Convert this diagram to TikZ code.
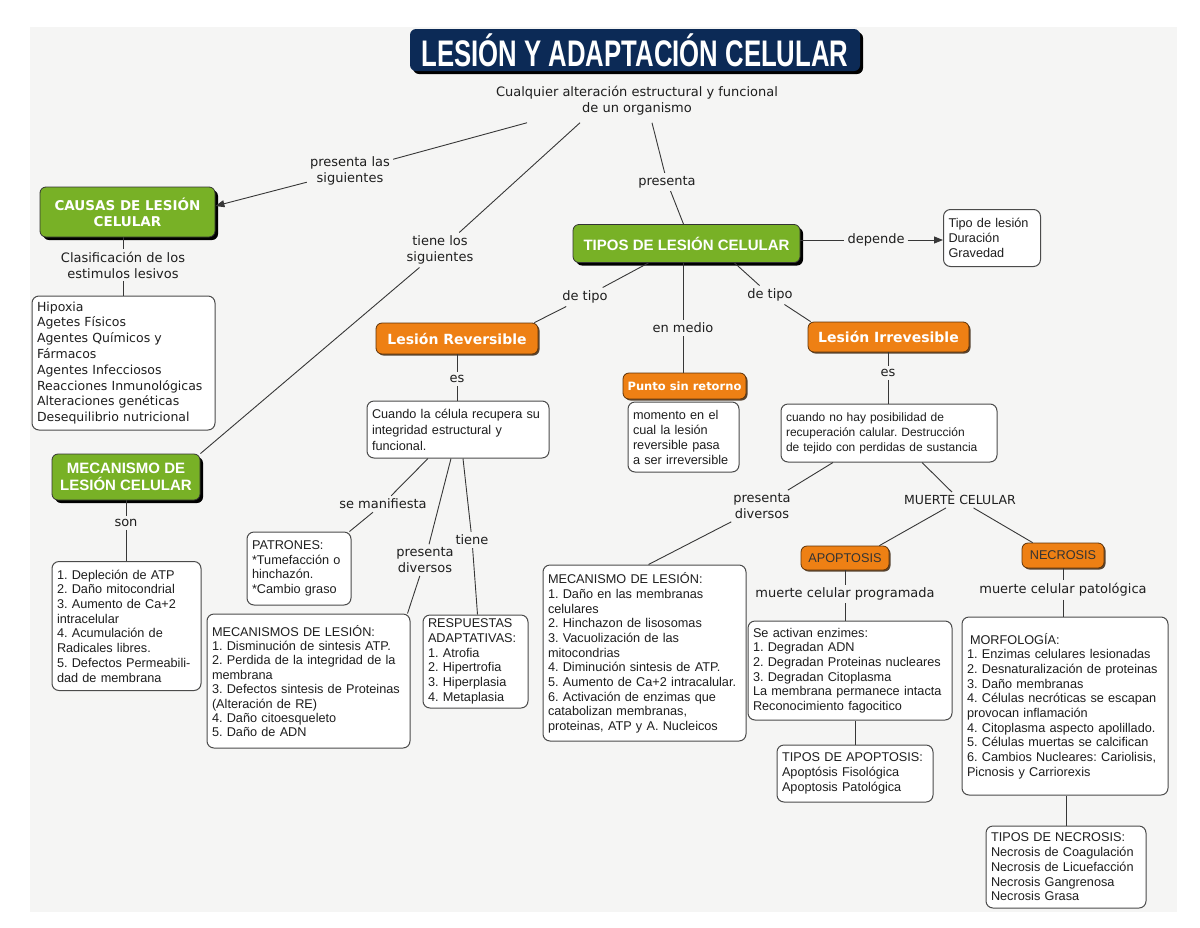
\documentclass[tikz,border=0pt]{standalone}
\usepackage{graphicx}
\usepackage{fontspec}
\setmainfont{Liberation Sans}
\newfontfamily\verd{DejaVu Sans}
\usetikzlibrary{arrows.meta,shadows}
\frenchspacing
\definecolor{fondo}{RGB}{245,245,244}
\definecolor{azul}{RGB}{12,42,86}
\definecolor{verde}{RGB}{120,177,38}
\definecolor{naranja}{RGB}{238,128,20}
\definecolor{texto}{RGB}{30,30,30}
\definecolor{borde}{RGB}{75,75,75}
\definecolor{gris}{RGB}{55,55,55}
\tikzset{
  etiq/.style={font=\verd\fontsize{13}{16}\selectfont, text=texto, align=center, inner sep=3pt},
  caja/.style={draw=borde, fill=white, line width=1pt, rounded corners=7pt, align=left, inner xsep=5pt, inner ysep=3pt, font=\fontsize{12.7}{14.7}\selectfont, text=texto},
  verdebox/.style={fill=verde, draw=black!80, line width=0.8pt, rounded corners=6pt, text=white, align=center,
    drop shadow={shadow xshift=3pt, shadow yshift=-3pt, opacity=1, fill=black}},
  naranjabox/.style={fill=naranja, draw=black!60!naranja, line width=0.8pt, rounded corners=6pt, text=white, align=center,
    drop shadow={shadow xshift=1.5pt, shadow yshift=-1.5pt, opacity=0.8, fill=black!80!naranja}},
  linea/.style={draw=gris, line width=0.9pt},
  punta/.style={-{Triangle[length=9pt,width=7pt]}}
}
\begin{document}
\begin{tikzpicture}[x=1pt,y=-1pt]
\useasboundingbox (0,0) rectangle (1200,927);
\fill[fondo] (30,27) rectangle (1177,912);

\node[fill=azul, rounded corners=6pt, minimum width=450pt, minimum height=42pt, text=white,
  drop shadow={shadow xshift=3pt,shadow yshift=-3pt,opacity=1,fill=black}] (titulo) at (635,50)
  {\scalebox{0.695}[1]{\fontsize{37}{40}\selectfont\bfseries LESIÓN Y ADAPTACIÓN CELULAR}};
\node[etiq] (def) at (637,101) {Cualquier alteración estructural y funcional\\de un organismo};

\node[etiq] (presLas) at (350,171) {presenta las\\siguientes};
\node[etiq] (tieneLos) at (440,250) {tiene los\\siguientes};
\node[etiq] (presenta) at (667,182) {presenta};

% causas y mecanismo
\node[verdebox, minimum width=175pt, minimum height=50pt, font=\verd\fontsize{13.5}{16}\selectfont\bfseries] (causas) at (127.5,212) {CAUSAS DE LESIÓN\\CELULAR};
\node[etiq] (clasif) at (123,265) {Clasificación de los\\estimulos lesivos};
\node[caja, font=\verd\fontsize{12.5}{15.8}\selectfont, text width=173pt, minimum height=134pt] (estimulos) at (123.5,363)
  {Hipoxia\\Agetes Físicos\\Agentes Químicos y\\Fármacos\\Agentes Infecciosos\\Reacciones Inmunológicas\\Alteraciones genéticas\\Desequilibrio nutricional};
\node[verdebox, minimum width=148pt, minimum height=46pt, font=\fontsize{15}{17}\selectfont\bfseries] (mecCel) at (126,477) {MECANISMO DE\\LESIÓN CELULAR};
\node[etiq] (son) at (126,523) {son};
\node[caja, text width=139pt, minimum height=129pt] (mecLista) at (126.5,626)
  {1. Depleción de ATP\\2. Daño mitocondrial\\3. Aumento de Ca+2\\intracelular\\4. Acumulación de\\Radicales libres.\\5. Defectos Permeabili-\\dad de membrana};

% tipos de lesion
\node[verdebox, minimum width=227pt, minimum height=38pt, font=\fontsize{15}{17}\selectfont\bfseries] (tipos) at (686.5,243.5) {TIPOS DE LESIÓN CELULAR};
\node[etiq] (depende) at (876,240) {depende};
\node[caja, text width=87pt, minimum height=57pt] (factores) at (992,238) {Tipo de lesión\\Duración\\Gravedad};
\node[etiq] (deTipoA) at (585,297) {de tipo};
\node[etiq] (deTipoB) at (770,295) {de tipo};
\node[etiq] (enMedio) at (683,328) {en medio};

\node[naranjabox, minimum width=162pt, minimum height=31pt, font=\verd\fontsize{14}{16}\selectfont\bfseries] (reversible) at (457,338.5) {Lesión Reversible};
\node[etiq] (esA) at (457,379) {es};
\node[caja, text width=172pt, minimum height=57pt, font=\fontsize{12.7}{16}\selectfont] (recupera) at (458,429.5) {Cuando la célula recupera su\\integridad estructural y\\funcional.};

\node[naranjabox, minimum width=123pt, minimum height=26pt, font=\verd\fontsize{11.5}{13}\selectfont\bfseries] (punto) at (684.5,386) {Punto sin retorno};
\node[caja, text width=101pt, minimum height=70pt, font=\fontsize{12.7}{15}\selectfont] (momento) at (683.5,437) {momento en el\\cual la lesión\\reversible pasa\\a ser irreversible};

\node[naranjabox, minimum width=161pt, minimum height=30pt, font=\verd\fontsize{14}{16}\selectfont\bfseries] (irreversible) at (888.5,337) {Lesión Irrevesible};
\node[etiq] (esB) at (888,373) {es};
\node[caja, text width=206pt, minimum height=58pt, font=\fontsize{12}{15}\selectfont] (noRecupera) at (889,433) {cuando no hay posibilidad de\\recuperación calular. Destrucción\\de tejido con perdidas de sustancia};

% reversible
\node[etiq] (manifiesta) at (383,504) {se manifiesta};
\node[etiq] (presDivA) at (425,560) {presenta\\diversos};
\node[etiq] (tiene) at (472,540) {tiene};
\node[caja, text width=94pt, minimum height=73pt] (patrones) at (299,568.5) {PATRONES:\\{*}Tumefacción o\\hinchazón.\\{*}Cambio graso};
\node[caja, text width=193pt, minimum height=134pt, font=\fontsize{12.7}{14.4}\selectfont] (mecRev) at (308.5,681)
  {MECANISMOS DE LESIÓN:\\1. Disminución de sintesis ATP.\\2. Perdida de la integridad de la\\membrana\\3. Defectos sintesis de Proteinas\\(Alteración de RE)\\4. Daño citoesqueleto\\5. Daño de ADN};
\node[caja, text width=95pt, minimum height=93pt] (respuestas) at (475.5,661.5)
  {RESPUESTAS\\ADAPTATIVAS:\\1. Atrofia\\2. Hipertrofia\\3. Hiperplasia\\4. Metaplasia};

% irreversible
\node[etiq] (presDivB) at (762,506) {presenta\\diversos};
\node[etiq, font=\verd\fontsize{12.5}{15}\selectfont] (muerte) at (960,500) {MUERTE CELULAR};
\node[caja, text width=193pt, minimum height=176pt] (mecIrr) at (644.5,653)
  {MECANISMO DE LESIÓN:\\1. Daño en las membranas\\celulares\\2. Hinchazon de lisosomas\\3. Vacuolización de las\\mitocondrias\\4. Diminución sintesis de ATP.\\5. Aumento de Ca+2 intracalular.\\6. Activación de enzimas que\\catabolizan membranas,\\proteinas, ATP y A. Nucleicos};
\node[naranjabox, text=black!80, minimum width=88pt, minimum height=24pt, font=\fontsize{12.7}{14}\selectfont] (apoptosis) at (845,558) {APOPTOSIS};
\node[naranjabox, text=black!80, minimum width=82pt, minimum height=25pt, font=\fontsize{12.7}{14}\selectfont] (necrosis) at (1063,555.5) {NECROSIS};
\node[etiq] (programada) at (845,594) {muerte celular programada};
\node[etiq] (patologica) at (1063,590) {muerte celular patológica};
\node[caja, text width=194pt, minimum height=99pt] (enzimas) at (850,670.5)
  {Se activan enzimes:\\1. Degradan ADN\\2. Degradan Proteinas nucleares\\3. Degradan Citoplasma\\La membrana permanece intacta\\Reconocimiento fagocitico};
\node[caja, text width=146pt, minimum height=57pt] (tiposApop) at (855,773.5) {TIPOS DE APOPTOSIS:\\Apoptósis Fisológica\\Apoptosis Patológica};
\node[caja, text width=196pt, minimum height=178pt] (morfologia) at (1065,706)
  {\hspace{3pt}MORFOLOGÍA:\\1. Enzimas celulares lesionadas\\2. Desnaturalización de proteinas\\3. Daño membranas\\4. Células necróticas se escapan\\provocan inflamación\\4. Citoplasma aspecto apolillado.\\5. Células muertas se calcifican\\6. Cambios Nucleares: Cariolisis,\\Picnosis y Carriorexis};
\node[caja, text width=150pt, minimum height=82pt] (tiposNec) at (1066,867)
  {TIPOS DE NECROSIS:\\Necrosis de Coagulación\\Necrosis de Licuefacción\\Necrosis Gangrenosa\\Necrosis Grasa};

% conectores
\draw[linea] ([xshift=-110pt,yshift=-4pt]def.south) -- (presLas);
\draw[linea,punta] (presLas) -- ([yshift=6pt]causas.east);
\draw[linea] ([xshift=-57pt,yshift=-4pt]def.south) -- (tieneLos) -- (mecCel.north east);
\draw[linea] ([xshift=15pt,yshift=-4pt]def.south) -- (presenta) -- ([xshift=-3pt]tipos.north);
\draw[linea] (clasif |- causas.south) -- (clasif) -- (clasif |- estimulos.north);
\draw[linea] (son |- mecCel.south) -- (son) -- (son |- mecLista.north);
\draw[linea] (tipos.east |- depende) -- (depende);
\draw[linea,punta] (depende) -- (depende -| factores.west);
\draw[linea] ([xshift=-38pt]tipos.south) -- (deTipoA) -- ([xshift=-4pt]reversible.north east);
\draw[linea] (enMedio |- tipos.south) -- (enMedio) -- (enMedio |- punto.north);
\draw[linea] ([xshift=48pt]tipos.south) -- (deTipoB) -- ([xshift=3pt]irreversible.north west);
\draw[linea] (esA |- reversible.south) -- (esA) -- (esA |- recupera.north);
\draw[linea] (esB |- irreversible.south) -- (esB) -- (esB |- noRecupera.north);
\draw[linea] ([xshift=-30pt]recupera.south) -- (manifiesta) -- ([xshift=-2pt]patrones.north east);
\draw[linea] ([xshift=-7pt]recupera.south) -- (presDivA) -- ([xshift=-3pt]mecRev.north east);
\draw[linea] ([xshift=5pt]recupera.south) -- (tiene) -- ([xshift=2pt]respuestas.north);
\draw[linea] ([xshift=-56pt]noRecupera.south) -- (presDivB) -- ([xshift=4pt]mecIrr.north);
\draw[linea] ([xshift=33pt]noRecupera.south) -- (muerte);
\draw[linea] (muerte) -- ([xshift=-10pt]apoptosis.north east);
\draw[linea] (muerte) -- ([xshift=11pt]necrosis.north west);
\draw[linea] (programada |- apoptosis.south) -- (programada) -- (programada |- enzimas.north);
\draw[linea] (tiposApop.north) -- (tiposApop.north |- enzimas.south);
\draw[linea] (patologica |- necrosis.south) -- (patologica) -- (patologica |- morfologia.north);
\draw[linea] (tiposNec.north) -- (tiposNec.north |- morfologia.south);
\end{tikzpicture}
\end{document}
